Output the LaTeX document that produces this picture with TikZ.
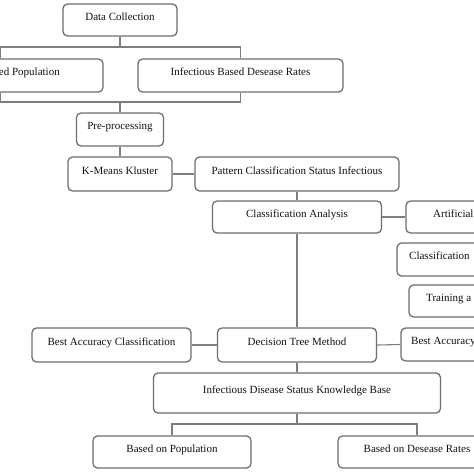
\documentclass[tikz,border=0pt]{standalone}
\usepackage{fontspec}
\setmainfont{Liberation Serif}
\definecolor{boxgray}{HTML}{6E6E6E}
\definecolor{linegray}{HTML}{7E7E7E}
\definecolor{txt}{HTML}{111111}
\begin{document}
\begin{tikzpicture}[x=1pt,y=-1pt,
  box/.style={draw=boxgray, line width=1.3pt, rounded corners=4.5pt, inner sep=0pt,
    text height=7pt, text depth=7pt, text=txt, font=\fontsize{11}{13}\selectfont, fill=white},
  lbl/.style={inner sep=0pt, text height=7pt, text depth=7pt, text=txt, font=\fontsize{11}{13}\selectfont},
  conn/.style={draw=linegray, line width=1.1pt}]
\useasboundingbox (0,0) rectangle (474,474);
\clip (0,0) rectangle (474,474);
\fill[white] (0,0) rectangle (474,474);

% nodes
\node[box, minimum width=114pt, minimum height=32pt] (dc) at (120,20) {Data Collection};
\node[box, minimum width=205pt, minimum height=33pt] (pop) at (0.5,75.5) {};
\node[lbl, anchor=east] (popt) at (60,75.5) {ed Population};
\node[box, minimum width=205pt, minimum height=33pt] (idr) at (240.5,75.5) {Infectious Based Desease Rates};
\node[box, minimum width=87pt, minimum height=33pt] (pre) at (120,129.5) {Pre-processing};
\node[box, minimum width=104pt, minimum height=34pt] (km) at (120,174) {K-Means Kluster};
\node[box, minimum width=204pt, minimum height=34pt] (pcs) at (297,174) {Pattern Classification Status Infectious};
\node[box, minimum width=169pt, minimum height=32pt] (ca) at (297,217) {Classification Analysis};
\node[box, minimum width=114pt, minimum height=32pt] (ai) at (463,217) {};
\node[lbl, anchor=west] (ait) at (433,217) {Artificial};
\node[box, minimum width=123pt, minimum height=33pt] (cm) at (458.5,259.5) {};
\node[lbl, anchor=west] (cmt) at (409,259.5) {Classification};
\node[box, minimum width=111pt, minimum height=32pt] (tr) at (464.5,301) {};
\node[lbl, anchor=west] (trt) at (426,301) {Training a};
\node[box, minimum width=159pt, minimum height=34pt] (bac) at (111.5,345) {Best Accuracy Classification};
\node[box, minimum width=159pt, minimum height=34pt] (dt) at (297,345) {Decision Tree Method};
\node[box, minimum width=119pt, minimum height=33pt] (bar) at (460.5,344.5) {};
\node[lbl, anchor=west] (bart) at (411,344.5) {Best Accuracy};
\node[box, minimum width=287pt, minimum height=40pt] (kb) at (297,393) {Infectious Disease Status Knowledge Base};
\node[box, minimum width=158pt, minimum height=32pt] (bp) at (172,452) {Based on Population};
\node[box, minimum width=158pt, minimum height=32pt] (bd) at (417,452) {Based on Desease Rates};

% connectors
\coordinate (t1) at (120,47);
\coordinate (t2) at (120,102);
\coordinate (t3) at (297,424);
\draw[conn] (dc.south) -- (t1);
\draw[conn] (pop.north) |- (t1) -| (idr.north);
\draw[conn] (pop.south) |- (t2) -| (idr.south);
\draw[conn] (t2) -- (pre.north);
\draw[conn] (pre.south) -- (km.north);
\draw[conn] (km.east) -- (pcs.west);
\draw[conn] (pcs.south) -- (ca.north);
\draw[conn] (ca.east) -- (ai.west);
\draw[conn] (ca.south) -- (dt.north);
\draw[conn] (bac.east) -- (dt.west);
\draw[conn] (dt.east) -- (bar.west);
\draw[conn] (dt.south) -- (kb.north);
\draw[conn] (kb.south) -- (t3);
\draw[conn] (bp.north) |- (t3) -| (bd.north);
\end{tikzpicture}
\end{document}
